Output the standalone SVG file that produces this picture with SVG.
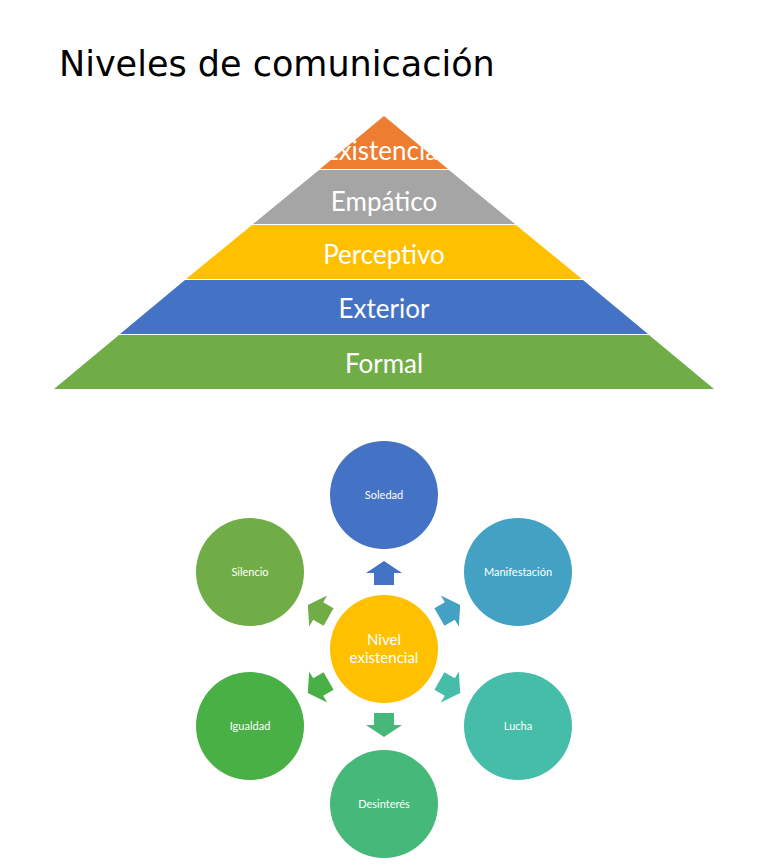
<svg xmlns="http://www.w3.org/2000/svg" width="768" height="866" viewBox="0 0 768 866">
<style>
.pt{font-family:Lato,"Open Sans",sans-serif;font-size:26px;fill:#fff;text-anchor:middle}
.ct{font-family:Lato,"Open Sans",sans-serif;font-size:11px;fill:#fff;text-anchor:middle}
</style>
<defs>
<clipPath id="top"><polygon points="384,116 448,169 320,169"/></clipPath>
<path id="arr" d="M0,-88 L18,-76 L10,-76 L10,-64 L-10,-64 L-10,-76 L-18,-76 Z"/>
</defs>
<rect width="768" height="866" fill="#fff"/>
<text x="59" y="76" font-family="DejaVu Sans,sans-serif" font-size="35" fill="#000">Niveles de comunicación</text>
<g id="pyramid">
<g id="l1"><polygon points="384,116 448,169 320,169" fill="#ED7D31"/><text class="pt" x="384" y="160" clip-path="url(#top)">Existencial</text></g>
<g id="l2"><polygon points="319,170 449,170 515,224 253,224" fill="#A5A5A5"/><text class="pt" x="384" y="211">Empático</text></g>
<g id="l3"><polygon points="252,225 516,225 582,279 186,279" fill="#FFC000"/><text class="pt" x="384" y="264">Perceptivo</text></g>
<g id="l4"><polygon points="185,280 583,280 648,334 120,334" fill="#4472C4"/><text class="pt" x="384" y="318">Exterior</text></g>
<g id="l5"><polygon points="119,335 649,335 714,389 54,389" fill="#70AD47"/><text class="pt" x="384" y="373">Formal</text></g>
</g>
<g id="connectors">
<use href="#arr" transform="translate(384,649) rotate(0)" fill="#4472C4"/>
<use href="#arr" transform="translate(384,649) rotate(60)" fill="#43A2C4"/>
<use href="#arr" transform="translate(384,649) rotate(120)" fill="#45BDA8"/>
<use href="#arr" transform="translate(384,649) rotate(180)" fill="#46B879"/>
<use href="#arr" transform="translate(384,649) rotate(240)" fill="#48B045"/>
<use href="#arr" transform="translate(384,649) rotate(300)" fill="#70AD47"/>
</g>
<g id="center"><circle cx="384" cy="649" r="54" fill="#FFC000"/><text class="ct" x="384" y="645" font-size="15" style="font-size:15px">Nivel</text><text class="ct" x="384" y="663" style="font-size:15px">existencial</text></g>
<g id="soledad"><circle cx="384" cy="495" r="54" fill="#4472C4"/><text class="ct" x="384" y="499">Soledad</text></g>
<g id="manifestacion"><circle cx="518" cy="572" r="54" fill="#43A2C4"/><text class="ct" x="518" y="576">Manifestación</text></g>
<g id="lucha"><circle cx="518" cy="726" r="54" fill="#45BDA8"/><text class="ct" x="518" y="730">Lucha</text></g>
<g id="desinteres"><circle cx="384" cy="804" r="54" fill="#46B879"/><text class="ct" x="384" y="808">Desinterés</text></g>
<g id="igualdad"><circle cx="250" cy="726" r="54" fill="#48B045"/><text class="ct" x="250" y="730">Igualdad</text></g>
<g id="silencio"><circle cx="250" cy="572" r="54" fill="#70AD47"/><text class="ct" x="250" y="576">Silencio</text></g>
</svg>
